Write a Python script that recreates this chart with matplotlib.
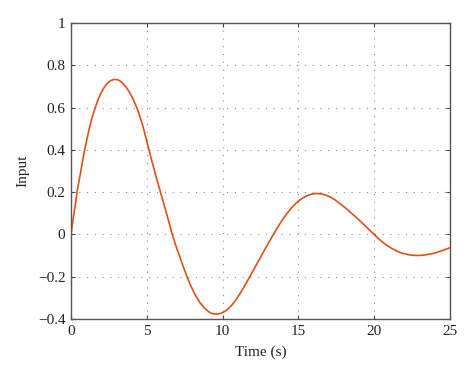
import matplotlib

matplotlib.use("Agg")
import matplotlib.pyplot as plt

# values
time_s = [0, 0.1, 0.2, 0.3, 0.4, 0.52, 0.65, 0.77, 0.9, 1.05, 1.2, 1.38, 1.6,
          1.8, 2.0, 2.2, 2.4, 2.6, 2.8, 2.95, 3.1, 3.3, 3.5, 3.7, 3.9, 4.1, 4.25,
          4.4, 4.57, 4.75, 4.92, 5.1, 5.3, 5.5, 5.71, 5.92, 6.11, 6.3, 6.49, 6.68,
          6.9, 7.15, 7.4, 7.65, 7.9, 8.2, 8.5, 8.8, 9.05, 9.3, 9.6, 9.85, 10.1,
          10.35, 10.6, 10.85, 11.1, 11.3, 11.55, 11.8, 12.1, 12.4, 12.7, 13.0,
          13.28, 13.6, 13.9, 14.2, 14.5, 14.8, 15.04, 15.3, 15.6, 15.9, 16.2,
          16.5, 16.8, 17.1, 17.4, 17.7, 18.0, 18.35, 18.73, 19.05, 19.4, 19.72,
          20.05, 20.4, 20.8, 21.15, 21.5, 21.85, 22.2, 22.55, 22.9, 23.25, 23.6,
          23.95, 24.3, 24.65, 25.0]
input_val = [0, 0.052, 0.10, 0.15, 0.20, 0.25, 0.30, 0.35, 0.40, 0.45, 0.50,
             0.55, 0.60, 0.640, 0.672, 0.697, 0.715, 0.727, 0.732, 0.733, 0.731,
             0.723, 0.708, 0.690, 0.667, 0.640, 0.615, 0.588, 0.552, 0.510, 0.463,
             0.412, 0.357, 0.303, 0.248, 0.195, 0.148, 0.10, 0.05, 0.0, -0.05,
             -0.10, -0.152, -0.20, -0.243, -0.287, -0.322, -0.348, -0.364, -0.374,
             -0.377, -0.374, -0.366, -0.353, -0.335, -0.312, -0.285, -0.262,
             -0.231, -0.199, -0.160, -0.121, -0.082, -0.044, -0.008, 0.03, 0.064,
             0.095, 0.122, 0.145, 0.160, 0.173, 0.184, 0.191, 0.194, 0.192, 0.186,
             0.177, 0.164, 0.148, 0.131, 0.110, 0.086, 0.065, 0.041, 0.019,
             -0.004, -0.027, -0.050, -0.066, -0.079, -0.089, -0.095, -0.0985,
             -0.0995, -0.098, -0.094, -0.089, -0.081, -0.072, -0.063]

x_ticks = [0, 5, 10, 15, 20, 25]
x_labels = ["0", "5", "10", "15", "20", "25"]
y_ticks = [-0.4, -0.2, 0, 0.2, 0.4, 0.6, 0.8, 1.0]
y_labels = ["\u22120.4", "\u22120.2", "0", "0.2", "0.4", "0.6", "0.8", "1"]

plt.rcParams["font.family"] = ["Liberation Serif", "DejaVu Serif"]

fig = plt.figure(figsize=(4.74, 3.77), dpi=100)
ax = fig.add_axes([0.1498, 0.1538, 0.7996, 0.7852])

ax.plot(time_s, input_val, color="#d95319", linewidth=1.2)

ax.set_xlim(0, 25)
ax.set_ylim(-0.4, 1.0)
ax.set_xticks(x_ticks)
ax.set_xticklabels(x_labels)
ax.set_yticks(y_ticks)
ax.set_yticklabels(y_labels)

ax.grid(True, color="#8a8a8a", linestyle=(0, (1, 6)), linewidth=0.8)
ax.tick_params(direction="in", length=3, width=0.8, color="#444444",
               labelsize=11, labelcolor="#222222", top=True, right=True, pad=4)
for sp in ax.spines.values():
    sp.set_color("#555555")
    sp.set_linewidth(1.0)

ax.set_xlabel("Time (s)", fontsize=11, color="#222222", labelpad=6)
ax.set_ylabel("Input", fontsize=11, color="#222222", labelpad=6)

fig.savefig("out.png", dpi=100)
plt.close()
